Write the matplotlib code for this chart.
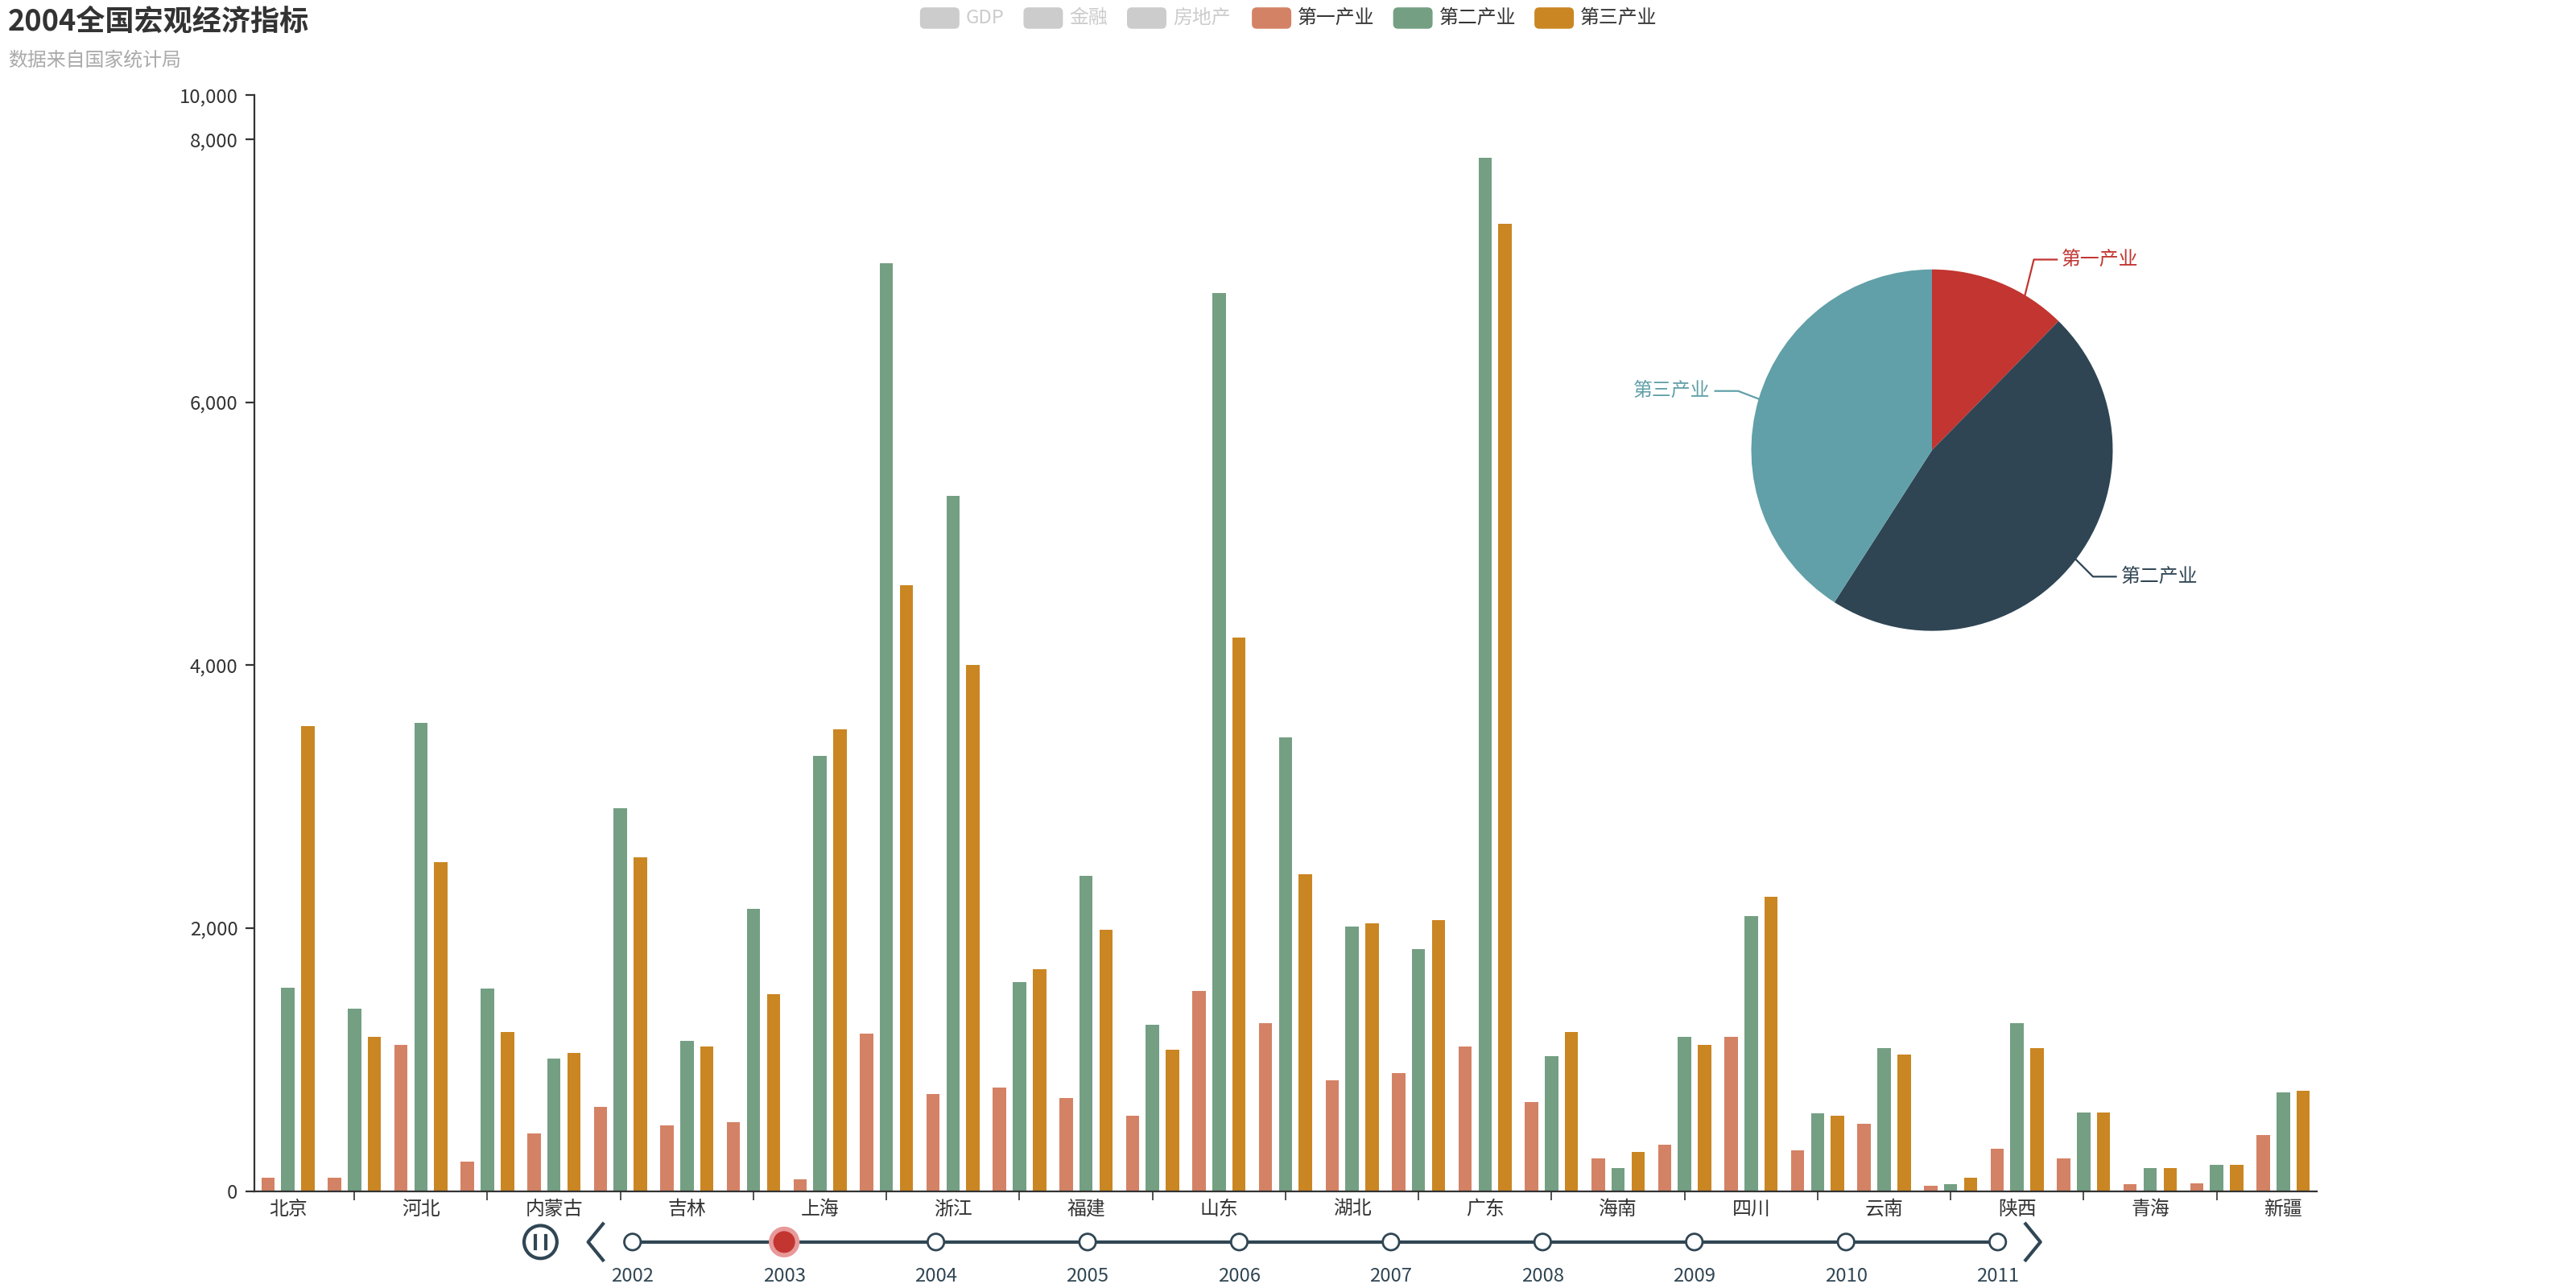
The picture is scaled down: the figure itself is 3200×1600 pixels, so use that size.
import matplotlib
matplotlib.use("Agg")
import matplotlib.pyplot as plt
import numpy as np
from matplotlib.patches import FancyBboxPatch, Circle

plt.rcParams['font.family'] = ['Noto Sans CJK SC', 'DejaVu Sans']

provinces = ['北京','天津','河北','山西','内蒙古','辽宁','吉林','黑龙江','上海','江苏','浙江','安徽','福建','江西','山东','河南',
             '湖北','湖南','广东','广西','海南','重庆','四川','贵州','云南','西藏','陕西','甘肃','青海','宁夏','新疆']
primary = [100,100,1110,225,440,640,500,525,90,1200,740,790,710,575,1525,1275,840,900,1100,675,250,350,1175,310,510,40,320,250,50,60,425]
secondary = [1550,1390,3560,1540,1010,2910,1140,2150,3310,7060,5290,1590,2400,1265,6830,3450,2010,1840,7860,1025,175,1175,2090,590,1090,50,1275,600,175,200,750]
tertiary = [3540,1175,2500,1210,1050,2540,1100,1500,3510,4610,4000,1690,1990,1075,4210,2410,2040,2060,7360,1210,300,1110,2240,575,1040,100,1090,600,175,200,765]
years = ['2002','2003','2004','2005','2006','2007','2008','2009','2010','2011']
current_year = '2003'
series_names = ['第一产业','第二产业','第三产业']
legend_names = ['GDP','金融','房地产'] + series_names
title = '2004全国宏观经济指标'
subtitle = '数据来自国家统计局'

bar_colors = ['#d48265', '#749f83', '#ca8622']
pie_colors = ['#c23531', '#2f4554', '#61a0a8']

W, H = 1568, 784
fig = plt.figure(figsize=(16, 8), dpi=200)

def fx(x): return x / W
def fy(y): return 1 - y / H

ax = fig.add_axes([fx(155), fy(725), fx(1410) - fx(155), fy(58) - fy(725)])
n = len(provinces)
x = np.arange(n)
bw = 0.2
for i, (vals, c) in enumerate(zip([primary, secondary, tertiary], bar_colors)):
    ax.bar(x + (i - 1) * 0.3, vals, width=bw, color=c, zorder=2)
ax.set_xlim(-0.5, n - 0.5)
ymax = 8337
ax.set_ylim(0, ymax)
ax.set_yticks([0, 2000, 4000, 6000, 8000, ymax])
ax.set_yticklabels(['0', '2,000', '4,000', '6,000', '8,000', '10,000'])
ax.set_xticks(x[::2])
ax.set_xticklabels(provinces[::2])
ax.set_xticks(x[1::2], minor=True)
ax.tick_params(axis='x', which='major', length=0, labelsize=8.6, colors='#333333', pad=4)
ax.tick_params(axis='x', which='minor', length=4, color='#333333')
ax.tick_params(axis='y', length=4, labelsize=8.6, colors='#333333', color='#333333')
for s in ['top', 'right']:
    ax.spines[s].set_visible(False)
ax.spines['left'].set_color('#333333')
ax.spines['bottom'].set_color('#333333')

r = 110
pax = fig.add_axes([fx(1176 - r), fy(274 + r), 2 * r / W, 2 * r / H])
sums = [sum(primary), sum(secondary), sum(tertiary)]
pax.pie(sums, colors=pie_colors, startangle=90, counterclock=False, radius=1.0)
pax.set_xlim(-1, 1); pax.set_ylim(-1, 1)
pax.axis('off')

ov = fig.add_axes([0, 0, 1, 1], facecolor='none')
ov.set_xlim(0, W); ov.set_ylim(H, 0); ov.axis('off')

ov.plot([1231, 1238, 1252], [186, 158, 158], color=pie_colors[0], lw=0.8)
ov.text(1255, 158, series_names[0], color=pie_colors[0], fontsize=8.6, va='center')
ov.plot([1263, 1274, 1288], [340, 351, 351], color=pie_colors[1], lw=0.8)
ov.text(1291, 351, series_names[1], color=pie_colors[1], fontsize=8.6, va='center')
ov.plot([1071, 1058, 1044], [243, 238, 238], color=pie_colors[2], lw=0.8)
ov.text(1041, 238, series_names[2], color=pie_colors[2], fontsize=8.6, va='center', ha='right')

ov.text(5, 13, title, fontsize=13, fontweight='bold', color='#333333', va='center')
ov.text(5, 37, subtitle, fontsize=8.6, color='#aaaaaa', va='center')

leg_x = [560, 623, 686, 762, 848, 934]
leg_cols = ['#cccccc'] * 3 + bar_colors
for lx, name, c in zip(leg_x, legend_names, leg_cols):
    ov.add_patch(FancyBboxPatch((lx, 4.5), 24, 13, boxstyle='round,pad=0,rounding_size=3',
                                fc=c, ec='none'))
    ov.text(lx + 28, 11, name, fontsize=8.6, va='center',
            color='#cccccc' if c == '#cccccc' else '#333333')

tl_y = 756
tx = np.linspace(385, 1216, len(years))
ov.plot([tx[0], tx[-1]], [tl_y, tl_y], color='#304654', lw=1.5, zorder=1)
for xx, yr in zip(tx, years):
    if yr == current_year:
        ov.add_patch(Circle((xx, tl_y), 8, fc='#c23531', ec='#e89999', lw=2, zorder=3))
    else:
        ov.add_patch(Circle((xx, tl_y), 5, fc='white', ec='#304654', lw=1, zorder=3))
    ov.text(xx, 777, yr, ha='center', va='center', fontsize=8.6, color='#304654')
ov.add_patch(Circle((329, tl_y), 10, fc='white', ec='#304654', lw=1.5, zorder=3))
ov.plot([326, 326], [752, 760], color='#304654', lw=1.5, zorder=4)
ov.plot([332, 332], [752, 760], color='#304654', lw=1.5, zorder=4)
ov.plot([367, 358, 367], [745, 756, 767], color='#304654', lw=1.5)
ov.plot([1233, 1242, 1233], [745, 756, 767], color='#304654', lw=1.5)

fig.savefig('out.png', dpi=200)
